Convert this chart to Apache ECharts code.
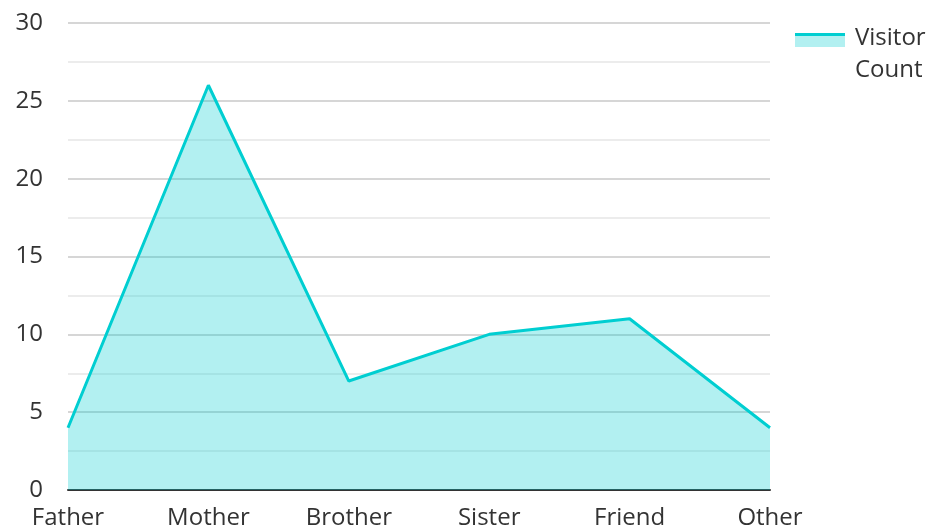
<!DOCTYPE html>
<html>
<head>
<meta charset="utf-8">
<script src="https://cdn.jsdelivr.net/npm/echarts@6/dist/echarts.min.js"></script>
<style>
  html, body { margin: 0; padding: 0; background: #fff; }
  #chart { width: 930px; height: 531px; }
</style>
</head>
<body>
<div id="chart"></div>
<script>
const categories = ['Father', 'Mother', 'Brother', 'Sister', 'Friend', 'Other']
const visitorCount = [4, 26, 7, 10, 11, 4]
const seriesName = 'Visitor Count'

const lineColor = '#00ced1'
const areaColor = 'rgba(0, 206, 209, 0.3)'
const font = '"Open Sans", "Noto Sans", sans-serif'

const chart = echarts.init(document.getElementById('chart'))

chart.setOption({
  backgroundColor: '#fff',
  animation: false,
  textStyle: { fontFamily: font },
  grid: { left: 68, right: 160, top: 23, bottom: 41 },
  legend: {
    left: 795,
    top: 17,
    itemWidth: 50,
    itemHeight: 14,
    icon: 'rect',
    // swatch is drawn below as graphic (line over area)
    itemStyle: { color: 'rgba(0,0,0,0)' },
    formatter: () => 'Visitor\nCount',
    textStyle: {
      fontFamily: font,
      fontSize: 24,
      color: '#333',
      lineHeight: 32
    }
  },
  xAxis: {
    type: 'category',
    boundaryGap: false,
    data: categories,
    axisLine: { lineStyle: { color: '#333', width: 2 } },
    axisTick: { show: false },
    axisLabel: { fontSize: 24, color: '#333', margin: 16, fontFamily: font }
  },
  yAxis: {
    type: 'value',
    min: 0,
    max: 30,
    interval: 5,
    axisLine: { show: false },
    axisTick: { show: false },
    axisLabel: { fontSize: 24, color: '#333', margin: 25, fontFamily: font },
    splitLine: { lineStyle: { color: '#c8c8c8', width: 1.5 } },
    minorTick: { show: false, splitNumber: 2 },
    minorSplitLine: { show: true, lineStyle: { color: '#e6e6e6', width: 1.5 } }
  },
  graphic: [
    {
      type: 'rect',
      left: 795,
      top: 33,
      shape: { width: 50, height: 14 },
      style: { fill: areaColor },
      z: 100
    },
    {
      type: 'rect',
      left: 795,
      top: 33,
      shape: { width: 50, height: 3 },
      style: { fill: lineColor },
      z: 101
    }
  ],
  series: [{
    name: seriesName,
    type: 'line',
    data: visitorCount,
    symbol: 'none',
    lineStyle: { color: lineColor, width: 3 },
    itemStyle: { color: lineColor },
    areaStyle: { color: areaColor, opacity: 1 }
  }]
})
</script>
</body>
</html>
